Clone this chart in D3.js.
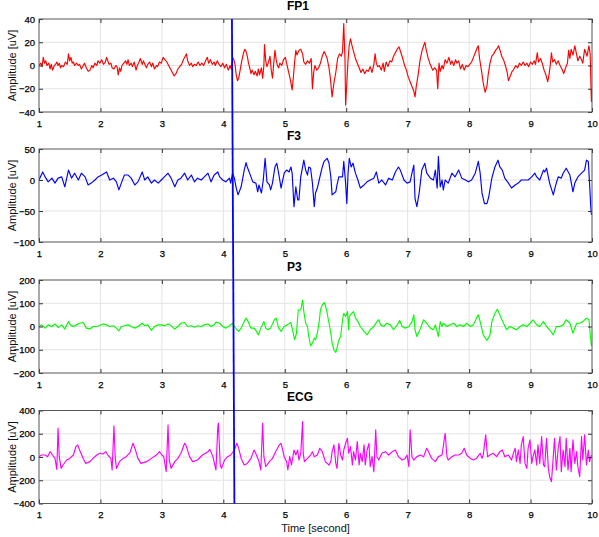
<!DOCTYPE html>
<html><head><meta charset="utf-8">
<script src="https://cdn.jsdelivr.net/npm/d3@7"></script>
<style>body{margin:0;background:#fff}svg{display:block}</style>
</head><body><svg id="c" width="599" height="537"></svg>
<script>
const fp1 = [[1.00,0],[1.03,2],[1.05,-1],[1.07,7],[1.09,2],[1.11,4],[1.13,0],[1.16,2],[1.18,-3],[1.20,1],[1.22,-4],[1.25,0],[1.27,1],[1.29,3],[1.31,0],[1.33,2],[1.35,-2],[1.37,0],[1.40,-1],[1.43,3],[1.46,1],[1.48,10],[1.50,4],[1.52,7],[1.54,2],[1.56,3],[1.58,0],[1.61,2],[1.64,0],[1.66,1],[1.69,-3],[1.72,0],[1.74,2],[1.77,-2],[1.80,-5],[1.83,-4],[1.86,0],[1.88,-2],[1.91,2],[1.94,0],[1.96,4],[1.99,2],[2.02,5],[2.05,1],[2.08,3],[2.10,7],[2.12,4],[2.14,1],[2.17,2],[2.19,-2],[2.22,-3],[2.25,0],[2.27,-1],[2.29,-8],[2.31,-2],[2.33,-5],[2.35,0],[2.38,2],[2.41,4],[2.43,1],[2.45,5],[2.47,0],[2.50,2],[2.52,-1],[2.55,3],[2.58,-4],[2.60,0],[2.62,2],[2.65,6],[2.68,1],[2.70,4],[2.73,0],[2.75,-2],[2.77,1],[2.80,3],[2.83,-1],[2.85,2],[2.88,-3],[2.91,0],[2.93,-1],[2.96,3],[2.99,2],[3.02,7],[3.05,5],[3.08,3],[3.11,0],[3.14,-3],[3.17,-6],[3.20,-9],[3.23,-7],[3.26,-3],[3.29,-1],[3.32,1],[3.35,5],[3.38,8],[3.40,10],[3.42,4],[3.45,0],[3.48,2],[3.50,-1],[3.53,1],[3.56,0],[3.59,3],[3.62,0],[3.65,2],[3.68,0],[3.71,4],[3.74,7],[3.76,2],[3.79,5],[3.82,1],[3.85,3],[3.87,0],[3.90,4],[3.93,1],[3.96,-1],[3.99,2],[4.02,-2],[4.05,1],[4.08,-4],[4.11,0],[4.13,-3],[4.15,7],[4.17,5],[4.19,1],[4.21,-8],[4.23,-13],[4.25,-11],[4.27,-5],[4.30,4],[4.33,11],[4.35,14],[4.37,12],[4.39,8],[4.41,2],[4.43,-2],[4.45,-7],[4.47,-4],[4.50,-8],[4.52,-5],[4.55,-9],[4.57,-3],[4.59,-8],[4.62,-2],[4.64,-11],[4.66,0],[4.67,18],[4.69,4],[4.71,-1],[4.73,2],[4.76,8],[4.78,-4],[4.80,-11],[4.82,2],[4.84,13],[4.86,5],[4.88,0],[4.90,-2],[4.92,2],[4.95,0],[4.98,5],[5.01,7],[5.03,2],[5.06,-5],[5.09,-12],[5.12,-21],[5.14,-10],[5.16,3],[5.18,13],[5.20,9],[5.23,13],[5.26,14],[5.29,10],[5.31,3],[5.34,1],[5.37,4],[5.40,2],[5.43,6],[5.45,-20],[5.47,-6],[5.49,0],[5.52,-4],[5.55,-2],[5.58,2],[5.61,8],[5.64,12],[5.66,10],[5.69,6],[5.72,-2],[5.74,-10],[5.77,-27],[5.80,-15],[5.83,-6],[5.86,6],[5.89,10],[5.92,8],[5.94,12],[5.96,36],[5.98,5],[5.99,-34],[6.01,-15],[6.03,5],[6.05,18],[6.07,23],[6.09,18],[6.12,12],[6.15,6],[6.18,2],[6.21,-2],[6.24,-6],[6.27,-3],[6.30,-7],[6.33,-4],[6.36,-5],[6.39,-1],[6.42,-6],[6.45,1],[6.47,10],[6.49,2],[6.51,-1],[6.54,0],[6.57,-4],[6.60,2],[6.62,-5],[6.65,3],[6.68,-1],[6.71,4],[6.74,3],[6.77,8],[6.80,11],[6.83,14],[6.86,16],[6.89,11],[6.92,6],[6.95,0],[6.98,-4],[7.01,-10],[7.04,-14],[7.07,-18],[7.10,-22],[7.12,-27],[7.14,-18],[7.17,-8],[7.20,4],[7.23,12],[7.26,17],[7.28,20],[7.30,14],[7.33,7],[7.36,2],[7.39,-2],[7.41,-4],[7.44,-2],[7.47,-4],[7.49,-20],[7.51,2],[7.53,-5],[7.56,0],[7.58,-3],[7.61,5],[7.64,2],[7.67,7],[7.70,1],[7.72,4],[7.75,0],[7.78,5],[7.80,2],[7.83,4],[7.86,-3],[7.89,1],[7.92,-4],[7.95,0],[7.98,-1],[8.01,1],[8.04,3],[8.07,7],[8.10,11],[8.13,15],[8.15,17],[8.17,6],[8.20,-4],[8.23,-15],[8.26,-23],[8.29,-18],[8.31,-8],[8.34,2],[8.37,8],[8.40,10],[8.43,13],[8.46,15],[8.48,17],[8.51,12],[8.53,8],[8.56,5],[8.59,0],[8.62,-6],[8.64,-13],[8.67,-9],[8.70,-5],[8.73,-3],[8.76,0],[8.79,-2],[8.82,2],[8.85,0],[8.88,3],[8.91,0],[8.94,2],[8.97,-1],[9.00,3],[9.03,1],[9.06,4],[9.08,1],[9.11,11],[9.13,3],[9.16,6],[9.19,2],[9.22,-4],[9.25,-8],[9.28,-14],[9.30,-8],[9.32,0],[9.34,11],[9.36,3],[9.39,5],[9.42,1],[9.45,4],[9.48,0],[9.51,-3],[9.54,-7],[9.57,-2],[9.60,2],[9.62,13],[9.64,6],[9.66,14],[9.69,9],[9.72,17],[9.74,12],[9.77,4],[9.80,8],[9.83,5],[9.85,2],[9.88,14],[9.92,8],[9.95,17],[9.97,10],[9.99,-31],[10.00,-20]];

const f3 = [[1.00,0],[1.06,13],[1.10,5],[1.15,-3],[1.21,3],[1.26,-5],[1.31,3],[1.37,5],[1.42,-11],[1.48,16],[1.50,11],[1.53,3],[1.58,11],[1.64,0],[1.69,11],[1.75,5],[1.80,-8],[1.85,-5],[1.91,0],[1.96,5],[2.02,8],[2.10,13],[2.15,0],[2.21,3],[2.26,-3],[2.30,-16],[2.34,-5],[2.39,8],[2.45,8],[2.50,3],[2.56,-8],[2.61,-3],[2.68,13],[2.72,0],[2.77,5],[2.83,-5],[2.88,0],[2.94,-5],[2.99,0],[3.04,5],[3.10,11],[3.15,3],[3.21,-11],[3.26,0],[3.31,3],[3.37,11],[3.42,0],[3.48,8],[3.53,-3],[3.58,3],[3.64,0],[3.69,5],[3.75,11],[3.80,-3],[3.85,8],[3.91,13],[3.94,5],[3.99,0],[4.04,-3],[4.10,3],[4.12,-5],[4.15,11],[4.18,3],[4.21,-13],[4.24,-24],[4.29,-11],[4.34,16],[4.37,28],[4.39,21],[4.45,5],[4.48,-3],[4.53,-5],[4.56,-19],[4.58,-8],[4.62,-21],[4.65,0],[4.68,35],[4.71,-3],[4.75,-8],[4.77,-16],[4.80,-5],[4.84,21],[4.87,27],[4.90,11],[4.94,-13],[4.99,11],[5.03,16],[5.07,13],[5.10,21],[5.12,11],[5.15,-43],[5.18,-11],[5.21,-32],[5.23,-32],[5.26,5],[5.29,21],[5.31,32],[5.34,16],[5.37,8],[5.39,21],[5.42,19],[5.45,-5],[5.48,-43],[5.50,-21],[5.53,-13],[5.56,0],[5.61,21],[5.64,30],[5.69,35],[5.72,27],[5.75,5],[5.77,-24],[5.83,-19],[5.85,-8],[5.88,5],[5.94,5],[5.96,30],[5.99,-5],[6.01,-38],[6.03,11],[6.05,35],[6.08,21],[6.11,27],[6.15,11],[6.19,0],[6.23,-13],[6.29,-8],[6.34,-3],[6.39,0],[6.45,3],[6.49,13],[6.53,-5],[6.58,0],[6.64,-8],[6.69,3],[6.75,0],[6.80,13],[6.85,21],[6.88,16],[6.94,0],[6.99,-5],[7.04,-3],[7.07,11],[7.10,24],[7.12,-30],[7.15,-43],[7.19,-19],[7.23,16],[7.28,27],[7.31,11],[7.37,3],[7.42,0],[7.45,16],[7.48,-13],[7.50,38],[7.53,-11],[7.56,0],[7.58,-16],[7.61,0],[7.66,-5],[7.72,11],[7.77,5],[7.83,16],[7.88,3],[7.94,0],[7.99,-3],[8.04,0],[8.10,11],[8.15,30],[8.18,11],[8.21,-21],[8.25,-38],[8.29,-38],[8.32,-27],[8.37,3],[8.42,21],[8.47,32],[8.50,21],[8.54,16],[8.58,3],[8.64,-5],[8.69,-13],[8.75,-8],[8.80,-5],[8.85,0],[8.91,0],[8.96,0],[9.02,5],[9.07,11],[9.10,5],[9.15,0],[9.21,16],[9.23,13],[9.26,19],[9.31,-5],[9.37,-24],[9.41,-8],[9.45,5],[9.50,3],[9.53,11],[9.58,19],[9.64,8],[9.69,-19],[9.72,-5],[9.77,5],[9.83,11],[9.88,16],[9.91,32],[9.94,30],[9.96,-5],[9.98,-43],[9.99,-56]];

const p3 = [[1.00,0],[1.04,7],[1.10,-7],[1.15,7],[1.21,0],[1.26,11],[1.31,-4],[1.37,7],[1.42,-11],[1.48,21],[1.51,7],[1.56,0],[1.61,7],[1.66,14],[1.72,17],[1.77,-7],[1.83,-10],[1.88,0],[1.94,0],[1.99,4],[2.04,11],[2.10,7],[2.15,0],[2.21,3],[2.26,-7],[2.30,-19],[2.34,0],[2.39,3],[2.45,7],[2.50,0],[2.56,-7],[2.61,0],[2.68,14],[2.72,4],[2.77,7],[2.83,-17],[2.88,0],[2.94,7],[2.99,7],[3.04,3],[3.10,11],[3.15,4],[3.21,-11],[3.26,0],[3.31,14],[3.37,17],[3.42,0],[3.48,3],[3.53,-3],[3.58,3],[3.64,0],[3.69,7],[3.75,11],[3.80,0],[3.85,7],[3.88,19],[3.94,14],[3.99,0],[4.04,-7],[4.10,3],[4.15,14],[4.18,0],[4.22,-14],[4.25,-21],[4.29,-7],[4.34,21],[4.37,36],[4.39,29],[4.45,-7],[4.50,-7],[4.54,-21],[4.57,-36],[4.61,-7],[4.66,21],[4.69,-7],[4.72,-14],[4.77,-7],[4.83,29],[4.86,36],[4.90,-7],[4.94,-21],[4.99,0],[5.04,7],[5.10,17],[5.12,-7],[5.16,-57],[5.19,-29],[5.22,71],[5.26,71],[5.29,114],[5.31,64],[5.34,14],[5.37,0],[5.39,-43],[5.42,-83],[5.45,-71],[5.48,-50],[5.50,-57],[5.53,-29],[5.56,21],[5.58,71],[5.61,93],[5.64,103],[5.66,93],[5.69,57],[5.72,14],[5.75,-29],[5.77,-71],[5.80,-100],[5.83,-111],[5.85,-93],[5.88,-57],[5.91,-43],[5.94,29],[5.96,57],[5.99,43],[6.02,64],[6.04,-14],[6.05,43],[6.09,57],[6.12,64],[6.15,36],[6.19,21],[6.23,0],[6.29,-21],[6.34,-36],[6.39,-14],[6.45,0],[6.50,21],[6.53,29],[6.56,7],[6.61,0],[6.66,14],[6.72,7],[6.77,-14],[6.83,7],[6.87,26],[6.91,0],[6.96,-7],[7.02,0],[7.07,21],[7.10,50],[7.12,-14],[7.15,-43],[7.21,-7],[7.26,29],[7.31,14],[7.37,-7],[7.42,-14],[7.45,7],[7.48,-21],[7.50,-43],[7.53,21],[7.56,0],[7.58,14],[7.64,0],[7.69,7],[7.75,14],[7.80,0],[7.85,7],[7.91,0],[7.96,14],[8.02,0],[8.07,7],[8.12,36],[8.15,50],[8.18,21],[8.23,-36],[8.29,-60],[8.34,-36],[8.37,21],[8.42,57],[8.46,74],[8.50,50],[8.56,14],[8.61,-14],[8.66,0],[8.72,-7],[8.77,-14],[8.83,0],[8.88,7],[8.94,0],[8.99,14],[9.04,29],[9.10,7],[9.15,0],[9.21,21],[9.26,0],[9.31,-14],[9.37,-36],[9.42,0],[9.48,0],[9.53,7],[9.58,29],[9.64,14],[9.69,-29],[9.75,14],[9.80,14],[9.85,21],[9.91,36],[9.95,29],[9.97,-29],[9.99,-83]];

const ecg = [[1.00,3],[1.04,17],[1.10,17],[1.14,3],[1.18,46],[1.22,17],[1.26,-12],[1.29,-107],[1.31,248],[1.33,3],[1.36,-98],[1.39,-69],[1.45,-26],[1.50,-12],[1.56,17],[1.60,89],[1.63,104],[1.66,60],[1.72,-12],[1.76,-55],[1.83,-40],[1.88,-12],[1.94,17],[1.99,32],[2.04,26],[2.09,46],[2.12,17],[2.17,-12],[2.19,-112],[2.22,268],[2.24,3],[2.26,-98],[2.31,-40],[2.37,-12],[2.42,3],[2.48,37],[2.53,118],[2.57,60],[2.61,-12],[2.66,-55],[2.75,-40],[2.83,-12],[2.91,17],[2.96,46],[3.00,17],[3.03,3],[3.07,-127],[3.10,276],[3.12,-26],[3.15,-98],[3.21,-40],[3.26,-12],[3.31,32],[3.37,118],[3.39,104],[3.45,3],[3.50,-40],[3.58,-26],[3.66,17],[3.75,46],[3.78,66],[3.83,3],[3.88,-112],[3.91,262],[3.92,291],[3.95,-69],[3.97,-98],[4.02,-26],[4.07,3],[4.12,17],[4.18,60],[4.22,118],[4.25,75],[4.29,-12],[4.34,-69],[4.39,-55],[4.45,-12],[4.50,60],[4.54,17],[4.58,-40],[4.61,-112],[4.64,291],[4.66,3],[4.69,-84],[4.75,-40],[4.80,-12],[4.85,46],[4.91,104],[4.94,118],[4.96,75],[4.99,3],[5.03,-40],[5.05,-112],[5.08,3],[5.11,-69],[5.15,60],[5.18,17],[5.21,60],[5.23,-26],[5.26,32],[5.29,305],[5.30,32],[5.32,-40],[5.37,-12],[5.42,17],[5.45,46],[5.48,3],[5.53,17],[5.57,75],[5.61,46],[5.66,-40],[5.72,-69],[5.75,-40],[5.77,46],[5.80,104],[5.83,-55],[5.85,-98],[5.88,118],[5.91,17],[5.94,-26],[5.96,60],[5.99,118],[6.02,161],[6.04,32],[6.07,89],[6.10,-69],[6.12,46],[6.15,-26],[6.18,133],[6.21,-69],[6.23,32],[6.26,-40],[6.29,104],[6.31,-69],[6.34,60],[6.37,118],[6.39,-84],[6.42,3],[6.45,-127],[6.48,233],[6.50,3],[6.53,-26],[6.58,32],[6.64,46],[6.69,17],[6.75,46],[6.80,60],[6.85,3],[6.91,-26],[6.96,-12],[6.99,17],[7.02,-84],[7.04,233],[7.07,3],[7.10,-26],[7.15,3],[7.21,17],[7.26,3],[7.31,75],[7.34,46],[7.39,-12],[7.45,-40],[7.50,3],[7.56,17],[7.61,204],[7.64,3],[7.66,-26],[7.72,3],[7.77,17],[7.83,17],[7.88,32],[7.92,75],[7.96,17],[8.02,-12],[8.07,-26],[8.12,-12],[8.18,32],[8.21,-12],[8.23,17],[8.27,190],[8.30,3],[8.34,17],[8.39,32],[8.45,3],[8.50,46],[8.54,60],[8.58,3],[8.64,17],[8.69,-26],[8.72,32],[8.75,75],[8.77,-40],[8.80,60],[8.83,-55],[8.85,104],[8.88,175],[8.91,-55],[8.94,-98],[8.96,75],[8.99,147],[9.02,-55],[9.04,3],[9.07,60],[9.10,-69],[9.12,104],[9.15,-55],[9.18,175],[9.21,-69],[9.23,-84],[9.26,161],[9.29,-98],[9.31,-170],[9.34,-213],[9.37,3],[9.39,161],[9.42,-112],[9.45,75],[9.48,175],[9.50,-127],[9.53,60],[9.56,-84],[9.58,161],[9.61,-112],[9.64,75],[9.66,-127],[9.69,147],[9.72,-55],[9.75,46],[9.77,-84],[9.80,-170],[9.83,175],[9.85,-26],[9.88,190],[9.91,-69],[9.94,60],[9.96,-40],[9.99,17]];

const seriesData = [fp1, f3, p3, ecg];
const titles = ["FP1", "F3", "P3", "ECG"];
const colors = ["#ff0000", "#0000ff", "#00ff00", "#ff00ff"];
const yDomains = [[-40, 40], [-100, 50], [-200, 200], [-400, 400]];
const yTicks = [[-40, -20, 0, 20, 40], [-100, -50, 0, 50], [-200, -100, 0, 100, 200], [-400, -200, 0, 200, 400]];
const xTicks = [1, 2, 3, 4, 5, 6, 7, 8, 9, 10];
const markerT = [4.14, 4.18];
const yLabel = "Amplitude [uV]";
const xLabel = "Time [second]";

const svg = d3.select("#c");
const left = 39, right = 592, ph = 93;
const tops = [19, 149, 280, 410.5];
const font = "'Liberation Sans', Arial, sans-serif";
const x = d3.scaleLinear().domain([1, 10]).range([left, right]);

svg.append("rect").attr("width", 599).attr("height", 537).attr("fill", "#fff");

seriesData.forEach((data, i) => {
  const top = tops[i];
  const y = d3.scaleLinear().domain(yDomains[i]).range([top + ph, top]);
  const g = svg.append("g");
  const cid = "clip" + i;
  svg.append("clipPath").attr("id", cid).append("rect")
    .attr("x", left).attr("y", top).attr("width", right - left).attr("height", ph);

  // grid
  g.append("g").selectAll("line").data(xTicks.slice(1, -1)).join("line")
    .attr("x1", d => x(d)).attr("x2", d => x(d)).attr("y1", top).attr("y2", top + ph)
    .attr("stroke", "#e3e3e3").attr("stroke-width", 1);
  g.append("g").selectAll("line").data(yTicks[i].slice(1, -1)).join("line")
    .attr("x1", left).attr("x2", right).attr("y1", d => y(d)).attr("y2", d => y(d))
    .attr("stroke", "#e3e3e3").attr("stroke-width", 1);

  // signal
  g.append("path").datum(data)
    .attr("clip-path", `url(#${cid})`)
    .attr("fill", "none").attr("stroke", colors[i]).attr("stroke-width", 1.15)
    .attr("stroke-linejoin", "round")
    .attr("d", d3.line().x(d => x(d[0])).y(d => y(d[1])));

  // axes
  const ax = (gen, tx, ty, labels) => {
    const a = g.append("g").attr("transform", `translate(${tx},${ty})`).call(gen);
    a.select(".domain").remove();
    a.selectAll(".tick line").attr("stroke", "#333");
    a.selectAll("text").attr("font-family", font).attr("font-size", 9.5)
      .attr("fill", "#000").attr("stroke", "#000").attr("stroke-width", 0.25);
    if (!labels) a.selectAll("text").remove();
    return a;
  };
  ax(d3.axisBottom(x).tickValues(xTicks).tickSize(-4).tickPadding(8).tickFormat(d3.format("d")), 0, top + ph, true);
  ax(d3.axisTop(x).tickValues(xTicks).tickSize(-4), 0, top, false);
  ax(d3.axisLeft(y).tickValues(yTicks[i]).tickSize(-4).tickPadding(4).tickFormat(d3.format("d")), left, 0, true);
  ax(d3.axisRight(y).tickValues(yTicks[i]).tickSize(-4), right, 0, false);

  // box
  g.append("rect").attr("x", left).attr("y", top).attr("width", right - left).attr("height", ph)
    .attr("fill", "none").attr("stroke", "#555").attr("stroke-width", 1);

  // title
  g.append("text").attr("x", 287).attr("y", top - 9.5)
    .attr("font-family", font).attr("font-size", 12).attr("font-weight", "bold")
    .attr("fill", "#000").text(titles[i]);

  // y label
  g.append("text").attr("transform", `translate(16,${top + ph / 2}) rotate(-90)`)
    .attr("text-anchor", "middle").attr("font-family", font).attr("font-size", 11)
    .attr("fill", "#111").text(yLabel);
});

svg.append("text").attr("x", (left + right) / 2).attr("y", 532)
  .attr("text-anchor", "middle").attr("font-family", font).attr("font-size", 11)
  .attr("fill", "#111").text(xLabel);

svg.append("line")
  .attr("x1", x(markerT[0])).attr("y1", tops[0])
  .attr("x2", x(markerT[1])).attr("y2", tops[3] + ph)
  .attr("stroke", "#0000ff").attr("stroke-width", 1.8);
</script>
</body></html>
